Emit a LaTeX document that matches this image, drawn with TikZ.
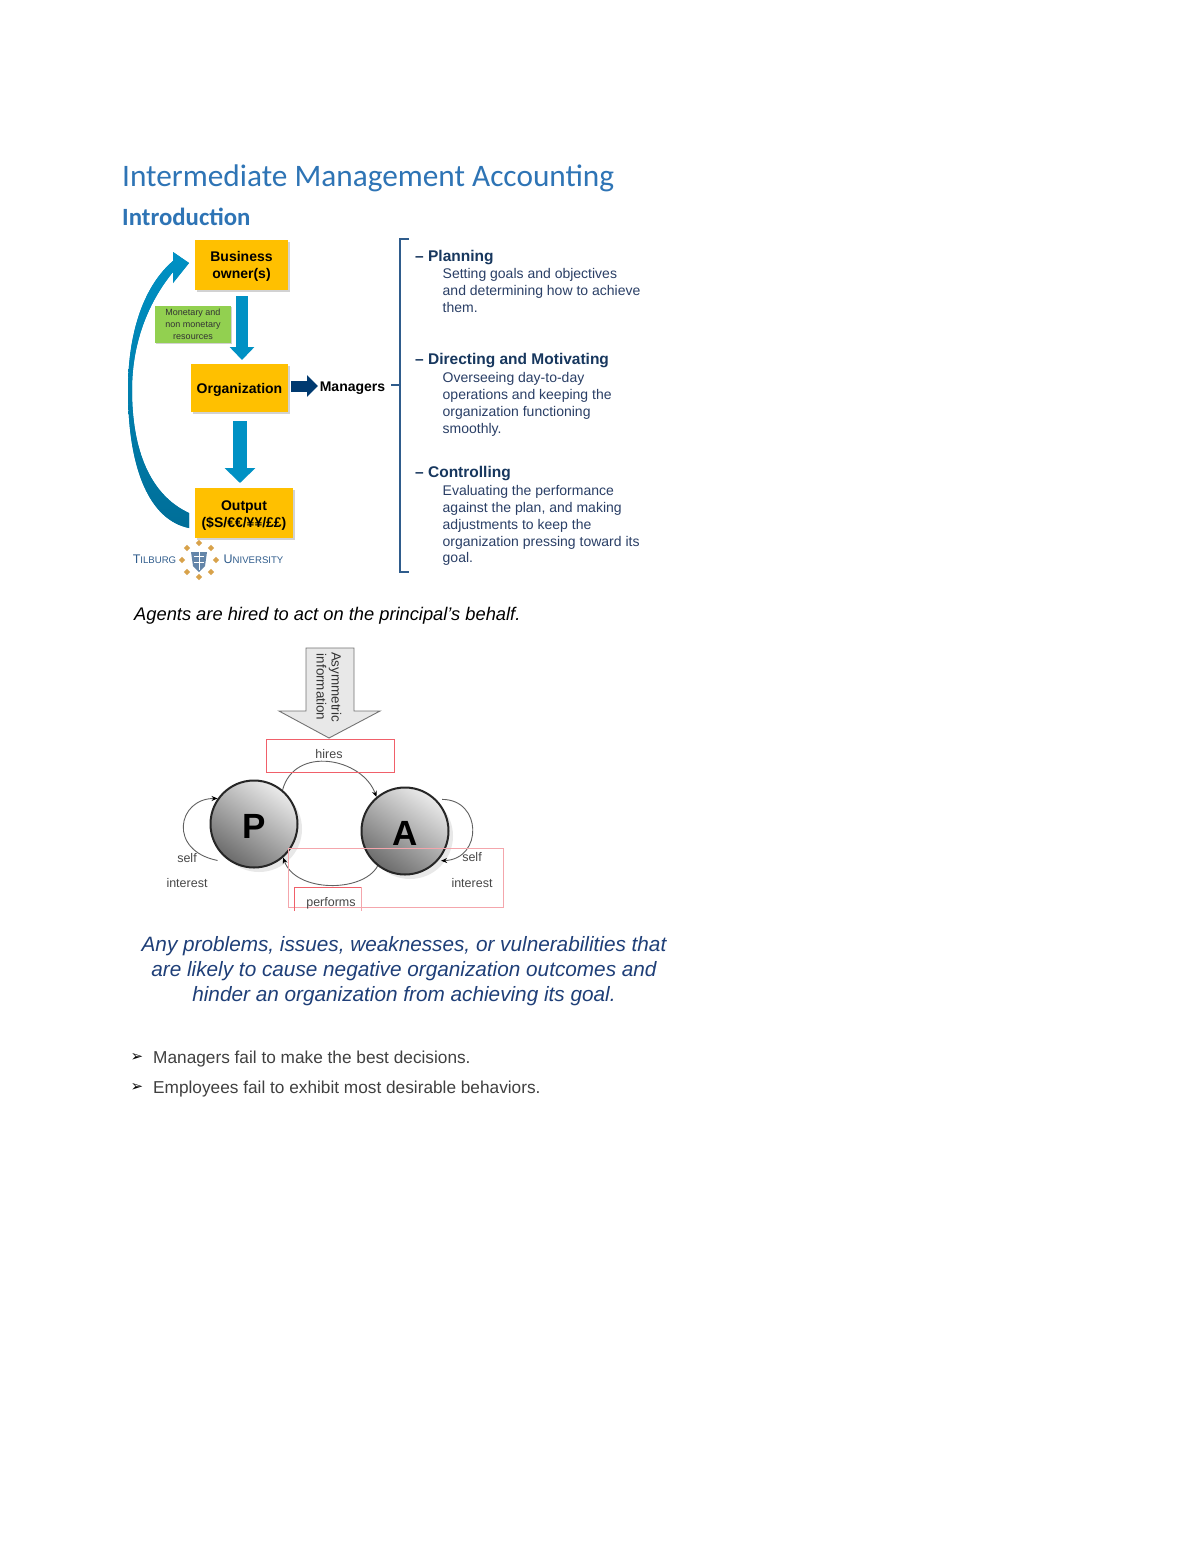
\documentclass[tikz,border=0pt]{standalone}
\usepackage{fontspec}
\setmainfont{Liberation Sans}
\newfontfamily\calib{Carlito}
\newfontfamily\djv{DejaVu Sans}
\usetikzlibrary{arrows.meta,shadows,calc}
\definecolor{ttl}{HTML}{2E74B5}
\definecolor{amber}{HTML}{FFC000}
\definecolor{leaf}{HTML}{92D050}
\definecolor{teal}{HTML}{0091C4}
\definecolor{deepteal}{HTML}{006E98}
\definecolor{navy}{HTML}{003A70}
\definecolor{head}{HTML}{17375E}
\definecolor{brk}{HTML}{2F5C8C}
\definecolor{body}{HTML}{2A3F66}
\definecolor{redl}{HTML}{F0606A}
\definecolor{redp}{HTML}{F4A6AC}
\definecolor{gold}{HTML}{D8A24A}
\definecolor{quot}{HTML}{1F3F78}
\tikzset{
  amberbox/.style={fill=amber,align=center,inner sep=0pt,font=\fontsize{14}{17.2}\selectfont\bfseries,
    drop shadow={shadow xshift=1.5pt,shadow yshift=-2pt,fill=black!35,opacity=.5}},
  flowarrow/.style={draw=teal,line width=12pt,-{Triangle[length=13pt,width=24pt]}},
  headtxt/.style={anchor=west,inner sep=0pt,text=head,font=\fontsize{15.5}{18}\selectfont\bfseries},
  bodytxt/.style={anchor=north west,inner sep=0pt,align=left,text=body,font=\fontsize{14}{16.9}\selectfont},
  ball/.style={circle,draw=black!85,line width=2pt,minimum size=87pt,inner sep=0pt,
    shading=axis,top color=black!8,bottom color=black!58,shading angle=-35,
    font=\fontsize{35}{35}\selectfont\bfseries},
  ballshadow/.style={circle,fill=black!22,minimum size=86pt,inner sep=0pt,opacity=.4},
  loopline/.style={draw=black!62,line width=.9pt,-{Stealth[length=6pt,width=5pt,color=black]}},
  small/.style={inner sep=0pt,text=black!72,font=\fontsize{12.5}{15}\selectfont},
  dot/.style={fill=gold,inner sep=0pt,minimum size=4.5pt},
  bullet/.style={anchor=west,inner sep=0pt,text=black!75,font=\fontsize{17.25}{20}\selectfont}
}
\newcommand{\returnshape}{(189,528) .. controls (150,520) and (128,470) .. (128,390)
  .. controls (128,330) and (145,285) .. (173,261)
  -- (173,252) -- (189,263) -- (173,283) -- (173,272)
  .. controls (150,300) and (132,340) .. (132,390)
  .. controls (132,450) and (150,495) .. (189,513) -- cycle}
\begin{document}
\begin{tikzpicture}[x=1pt,y=-1pt]
\useasboundingbox (0,0) rectangle (1200,1553);
\fill[white] (0,0) rectangle (1200,1553);
% titles
\node[anchor=base west,inner sep=0pt,text=ttl,font=\calib\fontsize{31.3}{36}\selectfont] (title) at (122,186) {Intermediate Management Accounting};
\node[anchor=base west,inner sep=0pt,text=ttl,font=\calib\bfseries\fontsize{24.8}{28}\selectfont] (intro) at (122,225) {Introduction};
% flow boxes
\node[amberbox,minimum width=93pt,minimum height=50pt] (owner) at (241.5,265) {\rule{0pt}{12.5pt}Business\\owner(s)};
\node[amberbox,minimum width=97pt,minimum height=48pt] (org) at (239.5,388) {\rule{0pt}{14.5pt}Organization};
\node[amberbox,minimum width=98pt,minimum height=50pt] (output) at (244,513) {\rule{0pt}{15.5pt}Output\\(\$S/€€/¥¥/££)};
\node[fill=leaf,minimum width=76pt,minimum height=37pt,inner sep=0pt,align=center,text=black!80,
  font=\fontsize{9}{12}\selectfont,drop shadow={shadow xshift=1pt,shadow yshift=-1.5pt,fill=black!35,opacity=.5}] (res) at (193,324) {Monetary and\\non monetary\\resources};
\coordinate (a1s) at (242,296);
\coordinate (a1e) at (242,360);
\draw[flowarrow] (a1s) -- (a1e);
\coordinate (a2s) at (240,421);
\coordinate (a2e) at (240,483);
\draw[flowarrow,line width=14pt,-{Triangle[length=15pt,width=30pt]}] (a2s) -- (a2e);
% curved return arrow
\fill[teal!70!deepteal] \returnshape;
\shade[top color=teal,bottom color=deepteal] \returnshape;
% managers
\node[inner sep=0pt,font=\fontsize{14}{17}\selectfont\bfseries] (mgr) at (352.5,388) {Managers};
\coordinate (mgrin) at (318,386);
\draw[navy,line width=11pt,-{Triangle[length=11pt,width=21pt]}] (org.east)++(3,-2) -- (mgrin);
\coordinate (brkmid) at (400,385);
\draw[brk,line width=1.2pt] (mgr.east)++(6,-3) -- (brkmid);
\draw[brk,line width=2.6pt] (409,239) -- (400,239) -- (400,572) -- (409,572);
% right column
\node[headtxt] (plan) at (415,258) {– Planning};
\node[bodytxt] (plant) at (442.5,268) {Setting goals and objectives\\and determining how to achieve\\them.};
\node[headtxt] (dir) at (415,361) {– Directing and Motivating};
\node[bodytxt] (dirt) at (442.5,372) {Overseeing day-to-day\\operations and keeping the\\organization functioning\\smoothly.};
\node[headtxt] (ctl) at (415,474) {– Controlling};
\node[bodytxt] (ctlt) at (442.5,485) {Evaluating the performance\\against the plan, and making\\adjustments to keep the\\organization pressing toward its\\goal.};
% logo
\node[inner sep=0pt,text=brk,font=\fontsize{9.6}{10}\selectfont] (tilb) at (154.5,559.5) {{\fontsize{12.5}{12}\selectfont T}ILBURG};
\node[inner sep=0pt,text=brk,font=\fontsize{9.6}{10}\selectfont] (univ) at (253.5,559.5) {{\fontsize{12.5}{12}\selectfont U}NIVERSITY};
\coordinate (crest) at (199,560);
\foreach \a in {0,45,...,315}{\node[dot,rotate=45] at ($(crest)+(\a:17)$) {};}
\fill[brk!75] (191,552) -- (207,552) -- (205,566) -- (199,572) -- (193,566) -- cycle;
\draw[white,line width=.6pt] (194,556) -- (204,556) (199,552) -- (199,570) (194,562) -- (204,562);
% agents sentence
\node[anchor=base west,inner sep=0pt,font=\itshape\fontsize{18.3}{22}\selectfont] (agents) at (134,620.5) {Agents are hired to act on the principal’s behalf.};
% big arrow
\coordinate (asymtip) at (329,738);
\draw[fill=black!9,draw=black!55,line width=.9pt] (306,648) -- (354,648) -- (354,711) -- (380,711) -- (asymtip) -- (279,711) -- (306,711) -- cycle;
\node[rotate=-90,inner sep=0pt,align=center,text=black!80,font=\fontsize{13.4}{15}\selectfont] (asym) at (329,687) {Asymmetric\\information};
% agents
\node[ballshadow] at (259,829) {};
\node[ballshadow] at (410,836) {};
\node[ball] (P) at (254,824) {\rule{0pt}{28pt}P};
\node[ball] (A) at (405,831) {\rule{0pt}{28pt}A};
\draw[loopline] (P.50) .. controls +(12,-45) and +(-14,-39) .. (A.130);
\draw[loopline] (A.232) .. controls +(-15,27) and +(12,35) .. (P.-49);
\draw[loopline] ($(P.225)+(-5,5)$) .. controls +(-50,-10) and +(-40,0) .. (P.145);
\draw[loopline] ($(A.40)+(3,-3)$) .. controls +(40,0) and +(42,-2) .. ($(A.-42)+(3,0)$);
% red boxes
\node[draw=redl,line width=1pt,minimum width=128pt,minimum height=33pt,inner sep=0pt] (hiresbox) at (330,755.5) {};
\node[draw=redp,line width=1pt,minimum width=215pt,minimum height=59pt,inner sep=0pt] (perfbox) at (395.5,877.5) {};
\coordinate (pa) at (294,911);
\coordinate (pb) at (294,887);
\coordinate (pc) at (361,887);
\coordinate (pd) at (361,911);
\draw[redl,line width=1pt] (pa) -- (pb) -- (pc);
\draw[redp,line width=.8pt] (pc) -- (pd);
\node[small] (hires) at (329,754) {hires};
\node[small] (perf) at (331,903) {performs};
\node[small] (s1) at (187,858) {self};
\node[small] (i1) at (187,883) {interest};
\node[small] (s2) at (472,857) {self};
\node[small] (i2) at (472,883) {interest};
% quote
\node[inner sep=0pt,align=center,text=quot,font=\itshape\fontsize{20.75}{24.7}\selectfont] (quote) at (404,971) {Any problems, issues, weaknesses, or vulnerabilities that\\are likely to cause negative organization outcomes and\\hinder an organization from achieving its goal.};
% bullets
\node[inner sep=0pt,font=\djv\fontsize{15}{15}\selectfont,text=black] (b1) at (137,1057) {➢};
\node[bullet] (l1) at (153,1059) {Managers fail to make the best decisions.};
\node[inner sep=0pt,font=\djv\fontsize{15}{15}\selectfont,text=black] (b2) at (137,1087) {➢};
\node[bullet] (l2) at (153,1089) {Employees fail to exhibit most desirable behaviors.};
\end{tikzpicture}
\end{document}
